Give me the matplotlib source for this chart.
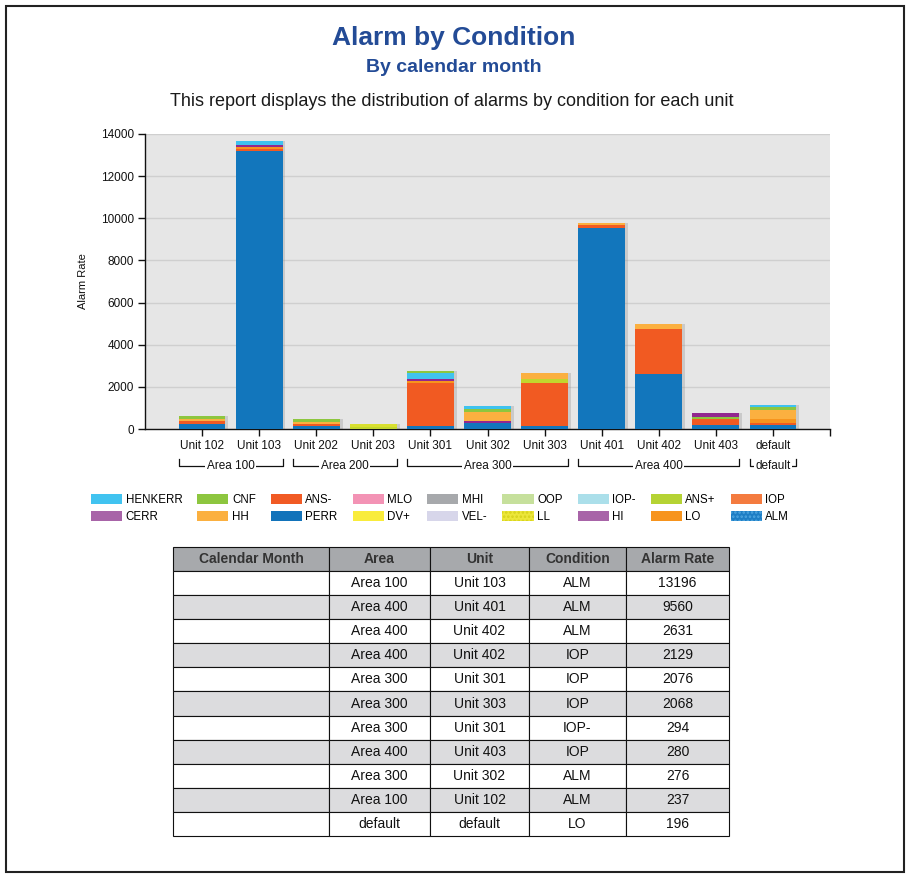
import matplotlib
matplotlib.use('Agg')
import matplotlib.pyplot as plt
from matplotlib.patches import Patch, Rectangle
import numpy as np

plt.rcParams['font.family'] = ['Liberation Sans', 'DejaVu Sans']
plt.rcParams['hatch.linewidth'] = 1.2

# ---------------- data ----------------
units = ['Unit 102', 'Unit 103', 'Unit 202', 'Unit 203', 'Unit 301', 'Unit 302',
         'Unit 303', 'Unit 401', 'Unit 402', 'Unit 403', 'default']
areas = ['Area 100', 'Area 100', 'Area 200', 'Area 200', 'Area 300', 'Area 300',
         'Area 300', 'Area 400', 'Area 400', 'Area 400', 'default']

# series in stacking order (bottom -> top)
conditions = ['ALM', 'IOP', 'LO', 'ANS+', 'HI', 'IOP-', 'LL', 'OOP', 'VEL-', 'MHI',
              'DV+', 'MLO', 'PERR', 'ANS-', 'HH', 'CNF', 'CERR', 'HENKERR']

ALM     = [237, 13196, 160, 0, 130, 276, 120, 9560, 2631, 190, 190]
IOP     = [130, 85, 95, 0, 2076, 0, 2068, 110, 2129, 280, 110]
LO      = [0, 85, 0, 0, 80, 0, 0, 0, 0, 0, 196]
ANS_P   = [0, 0, 0, 110, 0, 0, 170, 0, 0, 0, 0]
HI      = [0, 95, 0, 0, 80, 95, 0, 0, 0, 0, 0]
IOP_M   = [0, 0, 0, 0, 294, 0, 0, 0, 0, 0, 0]
LL      = [0, 0, 0, 130, 0, 0, 0, 0, 0, 0, 0]
OOP     = [0, 0, 0, 0, 0, 0, 0, 0, 0, 0, 0]
VEL_M   = [0, 0, 0, 0, 0, 0, 0, 0, 0, 0, 0]
MHI     = [0, 0, 0, 0, 0, 0, 0, 0, 0, 0, 0]
DV_P    = [0, 0, 0, 0, 0, 0, 0, 0, 0, 0, 0]
MLO     = [0, 0, 0, 0, 0, 0, 0, 0, 0, 0, 0]
PERR    = [0, 0, 0, 0, 0, 0, 0, 0, 0, 0, 0]
ANS_M   = [0, 0, 0, 0, 0, 0, 0, 0, 0, 0, 0]
HH      = [110, 0, 95, 0, 0, 430, 280, 110, 230, 0, 420]
CNF     = [140, 0, 140, 0, 100, 150, 0, 0, 0, 95, 120]
CERR    = [0, 0, 0, 0, 0, 0, 0, 0, 0, 190, 0]
HENKERR = [0, 220, 0, 0, 0, 150, 0, 0, 0, 0, 100]

series_values = [ALM, IOP, LO, ANS_P, HI, IOP_M, LL, OOP, VEL_M, MHI,
                 DV_P, MLO, PERR, ANS_M, HH, CNF, CERR, HENKERR]

bar_colors = ['#1276BC', '#F15A22', '#F7941D', '#C2D62E', '#93278F', '#41C3EE',
              '#D9E030', '#C4DF9B', '#D5D5E8', '#A7A9AC', '#F7EC3B', '#F391B3',
              '#0F6FB5', '#F05A24', '#FBB040', '#8DC63F', '#92278F', '#3EC2EF']
legend_colors = ['#1E7EC5', '#F47B3F', '#F7941D', '#B5D334', '#A864A8', '#ABDFEA',
                 '#ECE63A', '#C6E09C', '#D7D6EA', '#A7A9AC', '#F9EC3B', '#F393B5',
                 '#1273BA', '#F15A24', '#FBB040', '#8DC63F', '#A864A8', '#41C3F0']
legend_order = ['HENKERR', 'CERR', 'CNF', 'HH', 'ANS-', 'PERR', 'MLO', 'DV+', 'MHI',
                'VEL-', 'OOP', 'LL', 'IOP-', 'HI', 'ANS+', 'LO', 'IOP', 'ALM']

table_header = ['Calendar Month', 'Area', 'Unit', 'Condition', 'Alarm Rate']
table_area = ['Area 100', 'Area 400', 'Area 400', 'Area 400', 'Area 300', 'Area 300',
              'Area 300', 'Area 400', 'Area 300', 'Area 100', 'default']
table_unit = ['Unit 103', 'Unit 401', 'Unit 402', 'Unit 402', 'Unit 301', 'Unit 303',
              'Unit 301', 'Unit 403', 'Unit 302', 'Unit 102', 'default']
table_cond = ['ALM', 'ALM', 'ALM', 'IOP', 'IOP', 'IOP', 'IOP-', 'IOP', 'ALM', 'ALM', 'LO']
table_rate = [13196, 9560, 2631, 2129, 2076, 2068, 294, 280, 276, 237, 196]

# ---------------- figure ----------------
W, H = 915, 881
fig = plt.figure(figsize=(W / 100, H / 100), dpi=100)
fig.patch.set_facecolor('white')

fig.add_artist(Rectangle((6 / W, 1 - 872 / H), (904 - 6) / W, (872 - 6) / H,
                         transform=fig.transFigure, fill=False,
                         edgecolor='#222222', linewidth=1.5))

title_blue = '#234B96'
fig.text(454 / W, 1 - 38 / H, 'Alarm by Condition', ha='center', va='center',
         fontsize=19, fontweight='bold', color=title_blue)
fig.text(454 / W, 1 - 68 / H, 'By calendar month', ha='center', va='center',
         fontsize=14, fontweight='bold', color=title_blue)
fig.text(452 / W, 1 - 102 / H,
         'This report displays the distribution of alarms by condition for each unit',
         ha='center', va='center', fontsize=13, color='#1a1a1a')

# ---------------- chart ----------------
ax = fig.add_axes([145 / W, 1 - 429 / H, 685 / W, 295 / H])
ax.set_facecolor('#E6E6E6')
x = np.arange(1, len(units) + 1)
width = 0.82

totals = np.sum(np.array(series_values, dtype=float), axis=0)
ax.bar(x + 0.05, totals, width, color='#8c8c8c', alpha=0.3, linewidth=0, zorder=2)

bottom = np.zeros(len(units))
for name, vals, col in zip(conditions, series_values, bar_colors):
    v = np.array(vals, dtype=float)
    ax.bar(x, v, width, bottom=bottom, color=col, linewidth=0, zorder=3)
    bottom += v

ax.set_xlim(0, 12)
ax.set_ylim(0, 14000)
ax.set_yticks(np.arange(0, 14001, 2000))
ax.yaxis.grid(True, color='#CFCFCF', linewidth=1, zorder=0)
ax.set_axisbelow(True)
for s in ['top', 'right']:
    ax.spines[s].set_visible(False)
for s in ['left', 'bottom']:
    ax.spines[s].set_color('#111111')
    ax.spines[s].set_linewidth(1)
ax.set_xticks(x)
ax.set_xticklabels(units)
ax.set_xticks([12], minor=True)
ax.tick_params(axis='both', which='both', direction='out', length=5, width=1,
               labelsize=8.5, colors='#111111', pad=3)
ax.set_ylabel('Alarm Rate', fontsize=8, color='#111111')
ax.yaxis.set_label_coords((88 - 145) / 685, 0.5)

# area brackets
trans = ax.get_xaxis_transform()
y_top = (429 - 459) / 295
y_bot = (429 - 466) / 295
groups = []
for i, a in enumerate(areas):
    if groups and groups[-1][0] == a:
        groups[-1][2] = i
    else:
        groups.append([a, i, i])
for a, i0, i1 in groups:
    left = x[i0] - width / 2
    right = x[i1] + width / 2
    ax.plot([left, left, right, right], [y_top, y_bot, y_bot, y_top],
            transform=trans, color='#111111', linewidth=0.9, clip_on=False)
    ax.text((left + right) / 2, y_bot, a, transform=trans, ha='center', va='center',
            fontsize=8.5, color='#111111', clip_on=False,
            bbox=dict(facecolor='white', edgecolor='none', pad=1.2))

# ---------------- legend ----------------
handles = []
for name in legend_order:
    idx = conditions.index(name)
    if name in ('ALM', 'LL'):
        hc = '#4FA6E0' if name == 'ALM' else '#D6D21A'
        handles.append(Patch(facecolor=legend_colors[idx], edgecolor=hc,
                             hatch='....', linewidth=0))
    else:
        handles.append(Patch(facecolor=legend_colors[idx], edgecolor='none', linewidth=0))
fig.legend(handles, legend_order, ncol=9, loc='upper left',
           bbox_to_anchor=(91 / W, 1 - 494 / H), frameon=False, fontsize=8.3,
           handlelength=2.7, handleheight=0.95, handletextpad=0.3,
           columnspacing=1.3, labelspacing=0.42, borderpad=0, borderaxespad=0)

# ---------------- table ----------------
tax = fig.add_axes([173 / W, 1 - 836 / H, (729 - 173) / W, (836 - 547) / H])
tax.axis('off')
cell_text = [['', a, u, c, str(r)] for a, u, c, r in
             zip(table_area, table_unit, table_cond, table_rate)]
col_w = np.array([156, 101, 99, 97, 103], dtype=float)
col_w = col_w / col_w.sum()
cell_colors = [['white'] * 5 if i % 2 == 0 else ['#DCDCDE'] * 5
               for i in range(len(cell_text))]
tbl = tax.table(cellText=cell_text, colLabels=table_header, colWidths=list(col_w),
                cellColours=cell_colors, colColours=['#A7A9AC'] * 5,
                cellLoc='center', bbox=[0, 0, 1, 1])
tbl.auto_set_font_size(False)
for (r, c), cell in tbl.get_celld().items():
    cell.set_edgecolor('#111111')
    cell.set_linewidth(0.8)
    cell.get_text().set_fontsize(10)
    if r == 0:
        cell.get_text().set_fontweight('bold')
        cell.get_text().set_color('#333333')
    else:
        cell.get_text().set_color('#111111')

fig.savefig('out.png', dpi=100)
